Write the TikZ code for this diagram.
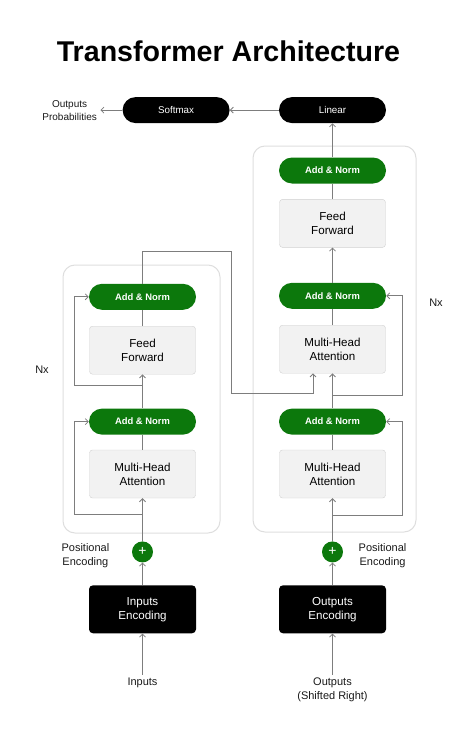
\documentclass[tikz,border=0pt]{standalone}
\usepackage{fontspec}
\setmainfont{Liberation Sans}
\usetikzlibrary{positioning,arrows.meta}

\definecolor{normgreen}{RGB}{12,120,12}
\definecolor{linegray}{RGB}{125,125,125}
\definecolor{boxgray}{RGB}{242,242,242}
\definecolor{edgegray}{RGB}{208,208,208}
\definecolor{blockgray}{RGB}{222,222,222}

\tikzset{
    addnorm/.style={rounded corners=13pt, fill=normgreen, text=white, minimum width=107pt, minimum height=26pt, inner sep=0pt, font=\bfseries\fontsize{9.4}{11}\selectfont},
    sublayer/.style={draw=edgegray, fill=boxgray, rounded corners=3pt, minimum width=106pt, minimum height=48pt, inner sep=0pt, align=center, font=\fontsize{11.6}{14}\selectfont},
    pill/.style={rounded corners=13pt, fill=black, text=white, minimum width=107pt, minimum height=26pt, inner sep=0pt, font=\fontsize{9.8}{12}\selectfont},
    embed/.style={rounded corners=4pt, fill=black, text=white, minimum width=107pt, minimum height=48pt, inner sep=0pt, align=center, font=\fontsize{11.6}{14}\selectfont},
    posenc/.style={circle, fill=normgreen, text=white, minimum size=21pt, inner sep=0pt, font=\fontsize{14}{14}\selectfont},
    sidetext/.style={align=center, text=black!90, font=\fontsize{11}{14}\selectfont},
    block/.style={draw=blockgray, line width=1pt, rounded corners=12pt, inner sep=0pt},
    conn/.style={draw=linegray, line width=0.8pt},
}

\begin{document}
\begin{tikzpicture}[x=1pt, y=-1pt, >={Straight Barb[length=3pt,width=6pt]}]
    \useasboundingbox (0,0) rectangle (474,752);

    \node (title) [anchor=base, font=\bfseries\fontsize{28.6}{30}\selectfont] at (228.5,62) {Transformer Architecture};

    % outer blocks
    \node (encblock) [block, minimum width=157pt, minimum height=268pt] at (141.5,399) {};
    \node (decblock) [block, minimum width=163pt, minimum height=386pt] at (334.5,339) {};
    \node (nxenc) [sidetext] at (42,370) {Nx};
    \node (nxdec) [sidetext] at (436,303) {Nx};

    % encoder
    \node (mha1) [sublayer] at (142.5,474) {Multi-Head\\Attention};
    \node (an1) [addnorm, above=15pt of mha1] {Add \& Norm};
    \node (ff1) [sublayer, above=34pt of an1] {Feed\\Forward};
    \node (an2) [addnorm, above=16pt of ff1] {Add \& Norm};
    \node (pos1) [posenc, below=43pt of mha1] {+};
    \node (inenc) [embed, below=22.5pt of pos1] {Inputs\\Encoding};
    \node (inputs) [sidetext, below=41pt of inenc] {Inputs};
    \node (posl1) [sidetext, left=19pt of pos1, yshift=-4pt] {Positional\\Encoding};

    % decoder
    \node (mha2) [sublayer] at (332.5,474) {Multi-Head\\Attention};
    \node (an3) [addnorm, above=15pt of mha2] {Add \& Norm};
    \node (mha3) [sublayer, above=35pt of an3] {Multi-Head\\Attention};
    \node (an4) [addnorm, above=16pt of mha3] {Add \& Norm};
    \node (ff2) [sublayer, above=35pt of an4] {Feed\\Forward};
    \node (an5) [addnorm, above=15.5pt of ff2] {Add \& Norm};
    \node (linear) [pill, above=34pt of an5] {Linear};
    \node (softmax) [pill, left=49pt of linear] {Softmax};
    \node (outprob) [sidetext, left=22pt of softmax, font=\fontsize{10}{13}\selectfont] {Outputs\\Probabilities};
    \node (pos2) [posenc, below=43pt of mha2] {+};
    \node (outenc) [embed, below=22.5pt of pos2] {Outputs\\Encoding};
    \node (outputs) [sidetext, below=41pt of outenc] {Outputs\\(Shifted Right)};
    \node (posl2) [sidetext, right=12pt of pos2, yshift=-4pt] {Positional\\Encoding};

    % encoder connections
    \draw[conn,->] (inputs) -- (inenc);
    \draw[conn,->] (inenc) -- (pos1);
    \draw[conn,->] (pos1) -- (mha1);
    \coordinate (res1) at (142.5,514);
    \draw[conn,->] (res1) -- ++(-68.5,0) |- (an1.west);
    \draw[conn] (mha1) -- (an1);
    \draw[conn,->] (an1) -- (ff1);
    \coordinate (res2) at (142.5,385);
    \draw[conn,->] (res2) -- ++(-68.5,0) |- (an2.west);
    \draw[conn] (ff1) -- (an2);
    \draw[conn,->] (an2.north) -- ++(0,-32) -| ++(89,142) -| ([xshift=-19.5pt]mha3.south);

    % decoder connections
    \draw[conn,->] (outputs) -- (outenc);
    \draw[conn,->] (outenc) -- (pos2);
    \draw[conn,->] (pos2) -- (mha2);
    \coordinate (res3) at (332.5,515);
    \draw[conn,->] (res3) -- ++(69.5,0) |- (an3.east);
    \draw[conn] (mha2) -- (an3);
    \draw[conn,->] (an3) -- (mha3);
    \coordinate (res4) at (332.5,395);
    \draw[conn,->] (res4) -- ++(69.5,0) |- (an4.east);
    \draw[conn] (mha3) -- (an4);
    \draw[conn,->] (an4) -- (ff2);
    \draw[conn] (ff2) -- (an5);
    \draw[conn,->] (an5) -- (linear);
    \draw[conn,->] (linear) -- (softmax);
    \draw[conn,->] (softmax) -- (outprob);
\end{tikzpicture}
\end{document}
